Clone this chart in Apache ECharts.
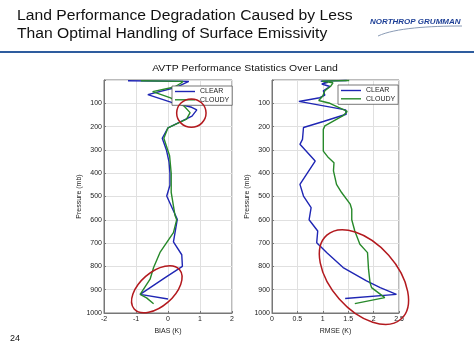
<!DOCTYPE html>
<html>
<head>
<meta charset="utf-8">
<script src="https://cdn.jsdelivr.net/npm/echarts@6/dist/echarts.min.js"></script>
<style>html,body{margin:0;padding:0;background:#fff}#c{width:474px;height:355px}</style>
</head>
<body>
<div id="c"></div>
<script>
// ---- data: [value, pressure (mb)] ----
const seriesNames = ['CLEAR', 'CLOUDY'];
const clearBias = [[-1.25,3],[0.65,6],[0.63,14],[0.27,31],[-0.63,63],[0.11,96],[0.74,117],[0.9,128],[0.75,155],[0.0,205],[-0.18,250],[-0.05,300],[0.03,350],[0.06,400],[0.06,452],[-0.04,498],[0.29,598],[0.17,695],[0.43,750],[0.45,800],[-0.09,848],[-0.87,920],[0.0,940]];
const cloudyBias = [[-0.85,3],[0.47,6],[0.4,14],[0.2,30],[-0.48,50],[0.08,77],[0.5,112],[0.69,140],[0.58,168],[0.0,205],[-0.13,250],[0.05,325],[0.1,400],[0.1,482],[0.22,582],[0.27,600],[0.17,655],[-0.25,740],[-0.45,805],[-0.56,855],[-0.87,920],[-0.67,935],[-0.45,960]];
const clearRmse = [[1.47,2],[0.96,5],[1.1,10],[0.98,17],[1.14,28],[1.01,46],[1.04,65],[0.94,76],[0.53,92],[1.45,128],[1.46,147],[1.01,178],[0.62,204],[0.6,255],[0.55,276],[0.85,348],[0.55,448],[0.62,498],[0.77,548],[0.73,600],[0.9,648],[0.88,698],[1.08,741],[1.4,805],[1.86,862],[2.13,891],[2.45,920],[1.44,938]];
const cloudyRmse = [[1.52,2],[0.98,5],[1.2,12],[1.15,28],[1.04,46],[1.0,69],[0.92,88],[1.14,100],[1.48,135],[1.4,153],[1.04,197],[1.01,212],[1.01,260],[1.01,305],[1.11,333],[1.22,355],[1.21,390],[1.27,448],[1.37,483],[1.54,533],[1.57,555],[1.57,600],[1.63,648],[1.73,705],[1.88,741],[1.9,812],[1.93,870],[1.96,891],[2.22,934],[1.63,960]];
const biasTicks = [-2, -1, 0, 1, 2];
const rmseTicks = [0, 0.5, 1, 1.5, 2, 2.5];
const pressureTicks = [100,200,300,400,500,600,700,800,900,1000];
// ---- annotation ellipses (data-space centres) ----
const rings = [
  {grid: 0, at: [0.73, 142], rx: 14.7, ry: 14.2, rot: 0},
  {grid: 0, at: [-0.35, 898], rx: 30, ry: 17, rot: 41},
  {grid: 1, at: [1.81, 846], rx: 56, ry: 33, rot: -48.5}
];

const BLUE = '#1f26b4', GREEN = '#27892a';
const FONT = 'Liberation Sans, Arial, sans-serif';
const chart = echarts.init(document.getElementById('c'), null, {renderer: 'canvas'});
const tickFont = {fontSize: 7, color: '#222', fontFamily: FONT};

function xAx(idx, min, max, interval, name) {
  return {
    gridIndex: idx, type: 'value', min, max, interval,
    name, nameLocation: 'middle', nameGap: 11,
    nameTextStyle: {fontSize: 7, color: '#222', fontFamily: FONT},
    axisLine: {show: true, onZero: false, lineStyle: {color: '#777', width: 1}},
    axisTick: {show: true, inside: true, length: 2, lineStyle: {color: '#777'}},
    axisLabel: Object.assign({margin: 3}, tickFont),
    splitLine: {show: true, lineStyle: {color: '#e0e0e0', width: 1}}
  };
}
function yAx(idx) {
  return {
    gridIndex: idx, type: 'value', min: 0, max: 1000, interval: 100, inverse: true,
    name: 'Pressure (mb)', nameLocation: 'middle', nameGap: 21, nameRotate: 90,
    nameTextStyle: {fontSize: 7, color: '#222', fontFamily: FONT},
    axisLine: {show: true, onZero: false, lineStyle: {color: '#777', width: 1}},
    axisTick: {show: true, inside: true, length: 2, lineStyle: {color: '#777'}},
    axisLabel: Object.assign({margin: 2, formatter: v => pressureTicks.indexOf(v) >= 0 ? String(v) : ''}, tickFont),
    splitLine: {show: true, lineStyle: {color: '#e0e0e0', width: 1}}
  };
}
function line(name, data, color, idx) {
  return {
    name, type: 'line', data, xAxisIndex: idx, yAxisIndex: idx,
    symbol: 'none', smooth: false, clip: true, animation: false,
    lineStyle: {color, width: 1.4}, itemStyle: {color}
  };
}
function legend(left, top) {
  return {
    data: seriesNames, orient: 'vertical', left, top,
    itemWidth: 20, itemHeight: 7, itemGap: 1.3, padding: [2, 3, 2, 3],
    backgroundColor: '#fff', borderColor: '#555', borderWidth: 0.8, borderRadius: 0,
    textStyle: {fontSize: 7, color: '#222', fontFamily: FONT},
    icon: 'path://M0,0L20,0L20,1.4L0,1.4Z',
    selectedMode: false
  };
}

chart.setOption({
  animation: false,
  backgroundColor: '#fff',
  grid: [
    {left: 104, top: 80, width: 128, height: 233, show: true, borderColor: '#777', borderWidth: 1},
    {left: 272, top: 80, width: 127, height: 233, show: true, borderColor: '#777', borderWidth: 1}
  ],
  xAxis: [
    xAx(0, biasTicks[0], biasTicks[biasTicks.length - 1], 1, 'BIAS (K)'),
    xAx(1, rmseTicks[0], rmseTicks[rmseTicks.length - 1], 0.5, 'RMSE (K)')
  ],
  yAxis: [yAx(0), yAx(1)],
  legend: [legend(172, 86), legend(338, 85)],
  series: [
    line('CLEAR', clearBias, BLUE, 0),
    line('CLOUDY', cloudyBias, GREEN, 0),
    line('CLEAR', clearRmse, BLUE, 1),
    line('CLOUDY', cloudyRmse, GREEN, 1)
  ]
});

const g = [
  {type: 'text', left: 17, top: 9, scaleX: 1.12, style: {text: 'Land Performance Degradation Caused by Less', fontSize: 14, fill: '#111', fontFamily: FONT}},
  {type: 'text', left: 17, top: 27, scaleX: 1.12, style: {text: 'Than Optimal Handling of Surface Emissivity', fontSize: 14, fill: '#111', fontFamily: FONT}},
  {type: 'text', x: 370, y: 18, style: {text: 'NORTHROP GRUMMAN', fontSize: 8, fontWeight: 'bold', fontStyle: 'italic', fill: '#1d3f96', fontFamily: FONT}},
  {type: 'bezierCurve', shape: {x1: 378, y1: 36, cpx1: 395, cpy1: 28, cpx2: 430, cpy2: 26, x2: 462, y2: 26}, style: {stroke: '#8a9bb5', lineWidth: 1, fill: null}},
  {type: 'line', shape: {x1: 0, y1: 52, x2: 474, y2: 52}, style: {stroke: '#2e5c9e', lineWidth: 2}},
  {type: 'text', x: 245, y: 63, scaleX: 1.1, style: {text: 'AVTP Performance Statistics Over Land', fontSize: 9.5, fill: '#111', align: 'center', fontFamily: FONT}},
  {type: 'text', x: 10, y: 334, style: {text: '24', fontSize: 9, fill: '#111', fontFamily: FONT}}
];
rings.forEach(r => {
  const p = chart.convertToPixel({xAxisIndex: r.grid, yAxisIndex: r.grid}, r.at);
  g.push({type: 'ellipse', x: p[0], y: p[1], rotation: r.rot * Math.PI / 180, z: 100,
    shape: {cx: 0, cy: 0, rx: r.rx, ry: r.ry}, style: {stroke: '#b3191e', lineWidth: 1.5, fill: null}});
});
chart.setOption({graphic: g});
</script>
</body>
</html>
